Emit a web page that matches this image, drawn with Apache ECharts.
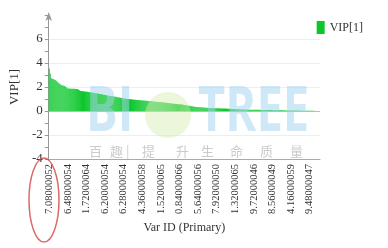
<!DOCTYPE html>
<html><head><meta charset="utf-8">
<script src="https://cdn.jsdelivr.net/npm/echarts@6/dist/echarts.min.js"></script>
<style>html,body{margin:0;padding:0;background:#fff}#c{width:388px;height:248px}</style>
</head><body><div id="c"></div>
<script>
// Tick labels shown on the x axis (every 19th variable)
const tickLabels = ["7.08000052","6.48000054","1.72000064","6.20000054","6.28000054","4.36000058","1.52000065","0.84000066","5.64000056","7.92000050","1.32000065","9.72000046","8.56000049","4.16000059","9.48000047"];
const labelStep = 19;
// VIP[1] values, sorted descending
const vipValues = [
3.55,3.13,2.72,2.68,2.66,2.63,2.58,2.52,2.45,2.38,
2.31,2.24,2.17,2.15,2.13,2.10,2.08,2.01,1.94,1.88,
1.87,1.87,1.86,1.86,1.85,1.85,1.85,1.84,1.84,1.83,
1.78,1.72,1.67,1.66,1.65,1.64,1.63,1.62,1.61,1.60,
1.58,1.57,1.56,1.55,1.54,1.52,1.51,1.50,1.48,1.47,
1.45,1.44,1.42,1.41,1.39,1.38,1.36,1.35,1.33,1.31,
1.30,1.28,1.26,1.25,1.24,1.22,1.21,1.19,1.18,1.16,
1.15,1.13,1.12,1.10,1.08,1.07,1.05,1.04,1.03,1.02,
1.01,1.00,0.99,0.98,0.97,0.96,0.95,0.94,0.93,0.92,
0.91,0.91,0.90,0.89,0.89,0.88,0.87,0.87,0.86,0.86,
0.85,0.84,0.84,0.83,0.82,0.81,0.80,0.80,0.79,0.78,
0.77,0.76,0.76,0.75,0.74,0.73,0.72,0.71,0.70,0.69,
0.68,0.67,0.66,0.65,0.64,0.63,0.62,0.61,0.60,0.58,
0.58,0.57,0.57,0.56,0.56,0.55,0.55,0.53,0.51,0.49,
0.48,0.46,0.45,0.43,0.42,0.40,0.39,0.37,0.36,0.35,
0.34,0.33,0.33,0.32,0.31,0.31,0.30,0.29,0.29,0.28,
0.27,0.27,0.26,0.26,0.25,0.25,0.24,0.24,0.24,0.23,
0.23,0.23,0.22,0.22,0.22,0.21,0.21,0.21,0.20,0.20,
0.20,0.20,0.19,0.19,0.18,0.18,0.17,0.17,0.16,0.16,
0.16,0.15,0.15,0.14,0.14,0.13,0.13,0.13,0.12,0.12,
0.12,0.12,0.11,0.11,0.11,0.11,0.11,0.11,0.10,0.10,
0.10,0.10,0.10,0.10,0.10,0.10,0.09,0.09,0.09,0.09,
0.09,0.09,0.08,0.08,0.08,0.08,0.08,0.08,0.07,0.07,
0.07,0.07,0.07,0.07,0.06,0.06,0.06,0.06,0.06,0.06,
0.06,0.05,0.05,0.05,0.05,0.05,0.05,0.05,0.04,0.04,
0.04,0.04,0.04,0.04,0.04,0.04,0.04,0.03,0.03,0.03,
0.03,0.03,0.03,0.03,0.03,0.02,0.02,0.02,0.02,0.02,
0.02,0.01,0.01,0.01,0.01,0.01,0.01
];
const seriesName = "VIP[1]";
const xAxisName = "Var ID (Primary)";
const yAxisName = "VIP[1]";
const watermarkChars = ["百","趣","|","提","升","生","命","质","量"];

const categories = vipValues.map((v, i) => (i % labelStep === 0 && tickLabels[i / labelStep]) ? tickLabels[i / labelStep] : '');
const serif = "'Times New Roman', 'Liberation Serif', Times, serif";
const wmX = [95,116,132,148,182,207,236,266,296];

const chart = echarts.init(document.getElementById('c'));
chart.setOption({
  animation: false,
  grid: {left: 44, right: 68, top: 15, bottom: 89},
  legend: {
    right: 20, top: 16, itemWidth: 8, itemHeight: 13, icon: 'rect', itemGap: 6,
    textStyle: {fontFamily: serif, fontSize: 12, color: '#333'},
    data: [seriesName]
  },
  xAxis: {
    type: 'category', data: categories,
    name: xAxisName, nameLocation: 'middle', nameGap: 63,
    nameTextStyle: {fontFamily: serif, fontSize: 12, color: '#333'},
    axisLine: {onZero: false, lineStyle: {color: '#aaa'}},
    axisTick: {interval: labelStep - 1, alignWithLabel: true, length: 5, lineStyle: {color: '#888'}},
    axisLabel: {interval: labelStep - 1, rotate: 90, fontFamily: serif, fontSize: 10.5, color: '#333', margin: 5},
    splitLine: {show: false}
  },
  yAxis: {
    type: 'value', min: -4, max: 8, interval: 1,
    name: yAxisName, nameLocation: 'middle', nameGap: 9, nameRotate: 90,
    nameTextStyle: {fontFamily: serif, fontSize: 13, color: '#333'},
    axisLine: {show: true, symbol: ['none', 'arrow'], symbolSize: [5, 9], symbolOffset: [0, 3], lineStyle: {color: '#999'}},
    axisTick: {show: true, length: 4, lineStyle: {color: '#999'}},
    axisLabel: {fontFamily: serif, fontSize: 13, color: '#333', margin: 6,
      formatter: v => (v % 2 === 0 && v < 8) ? String(v) : ''},
    splitLine: {show: true, lineStyle: {width: 1, color: [
      'transparent','transparent','#eeeeee','transparent','#bbbbbb','transparent','#eeeeee','transparent','#eeeeee','transparent','#eeeeee','transparent','transparent']}}
  },
  series: [{
    name: seriesName, type: 'bar', data: vipValues,
    barCategoryGap: '10%',
    itemStyle: {color: '#0cc72c'},
    z: 2
  }],
  graphic: [
    {type: 'text', x: 86, y: 82, scaleX: 0.76, z: 100, silent: true,
      style: {text: 'BI', font: 'bold 62px "Open Sans",sans-serif', fill: 'rgba(160,210,240,0.5)'}},
    {type: 'circle', shape: {cx: 168, cy: 115, r: 23}, z: 100, silent: true,
      style: {fill: 'rgba(210,235,175,0.45)'}},
    {type: 'text', x: 198, y: 82, scaleX: 0.76, z: 100, silent: true,
      style: {text: 'TREE', font: 'bold 62px "Open Sans",sans-serif', fill: 'rgba(160,210,240,0.5)'}},
    {type: 'ellipse', shape: {cx: 44, cy: 200, rx: 15, ry: 42}, z: 100, silent: true,
      style: {fill: 'none', stroke: 'rgba(215,80,80,0.85)', lineWidth: 1.5}}
  ].concat(watermarkChars.map((ch, i) => ({
    type: 'text', left: wmX[i] - 6, top: 145, z: 100, silent: true,
    style: {text: ch, font: '13px "Noto Sans CJK SC",sans-serif', fill: 'rgba(160,160,160,0.55)'}
  })))
});
</script></body></html>
